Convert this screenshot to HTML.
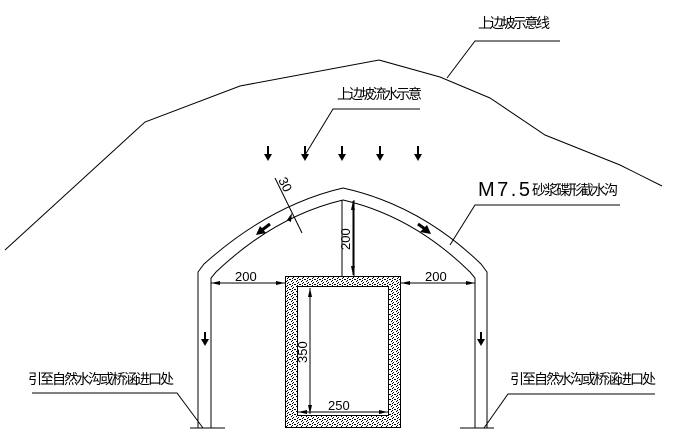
<!DOCTYPE html>
<html><head><meta charset="utf-8"><style>
html,body{margin:0;padding:0;background:#fff;}
svg{display:block}
text{font-family:"Liberation Sans","Noto Sans CJK SC",sans-serif;fill:#000}
.c{font-size:14px}
</style></head><body>
<svg width="684" height="444" viewBox="0 0 684 444" xmlns="http://www.w3.org/2000/svg">
<defs>
<pattern id="dots" width="5" height="5" patternUnits="userSpaceOnUse">
<rect width="5" height="5" fill="#fff"/>
<rect x="1" y="1" width="1" height="1" fill="#000"/><rect x="3" y="2" width="1" height="1" fill="#000"/>
<rect x="0" y="4" width="1" height="1" fill="#000"/><rect x="4" y="4" width="1" height="1" fill="#000"/>
<rect x="2" y="0" width="1" height="1" fill="#000"/><rect x="2" y="3" width="1" height="1" fill="#000"/>
</pattern>
</defs>
<g stroke="#000" stroke-width="1" fill="none">
<polyline points="5,250 145,122 240,86 379,60 440,77 490,98 545,135 620,165 662,186"/>
<path d="M198,428 L198,272 L204,264 Q270,205 343,188 Q420,205 481,264 L487,272 L487,428"/>
<path d="M211,428 L211,278 L216,272 Q275,216 343,200 Q413,216 470,272 L475,278 L475,428"/>
<line x1="190" y1="428" x2="225" y2="428"/>
<line x1="460" y1="428" x2="494" y2="428"/>
<line x1="342" y1="200" x2="342" y2="276"/>
<line x1="354" y1="200" x2="354" y2="276"/>
<rect x="285.5" y="276.5" width="115" height="151" fill="url(#dots)"/>
<rect x="297.5" y="286.5" width="91" height="129" fill="#fff"/>
<line x1="211" y1="283" x2="285" y2="283"/>
<line x1="401" y1="283" x2="475" y2="283"/>
<line x1="310" y1="288" x2="310" y2="414"/>
<line x1="298" y1="412" x2="388" y2="412"/>
<line x1="353" y1="201" x2="353" y2="275"/>
<line x1="275" y1="178" x2="302" y2="233"/>
<polyline points="447,78 475,41 560,41"/>
<polyline points="305,155 333,109 420,109"/>
<polyline points="450,245 475,205 620,205"/>
<polyline points="32,393 177,393 203,428"/>
<polyline points="655,394 508,394 484,428"/>
</g>
<g fill="#000">
<polygon points="211,283 220,281 220,285"/><polygon points="285,283 276,281 276,285"/>
<polygon points="401,283 410,281 410,285"/><polygon points="475,283 466,281 466,285"/>
<polygon points="310,288 308,297 312,297"/><polygon points="310,414 308,405 312,405"/>
<polygon points="298,412 307,410 307,414"/><polygon points="388,412 379,410 379,414"/>
<polygon points="353,201 351,210 355,210"/><polygon points="353,275 351,266 355,266"/>
<polygon points="292,213 287,220 291,222"/>
<g id="a"><rect x="267" y="146" width="2" height="9"/><polygon points="264,154 272,154 268,161"/></g>
<use href="#a" x="37"/><use href="#a" x="74"/><use href="#a" x="112"/><use href="#a" x="150"/>
<rect x="204" y="332" width="2" height="8"/><polygon points="201,339 209,339 205,346"/>
<rect x="480" y="332" width="2" height="8"/><polygon points="477,339 485,339 481,346"/>
<!-- slope arrows -->
<line x1="262" y1="230" x2="270" y2="224" stroke="#000" stroke-width="3"/>
<polygon points="256,235 260,226 266,233"/>
<line x1="418" y1="224" x2="425" y2="229" stroke="#000" stroke-width="3"/>
<polygon points="431,234 420,232 427,225"/>
</g>
<text class="c" x="478" y="28" textLength="72">上边坡示意线</text>
<text class="c" x="337" y="99" textLength="85">上边坡流水示意</text>
<text x="478" y="196" font-size="20" textLength="52">M7.5</text>
<text class="c" x="532" y="195" textLength="86">砂浆碟形截水沟</text>
<text class="c" x="28" y="384" textLength="146">引至自然水沟或桥涵进口处</text>
<text class="c" x="510" y="384" textLength="146">引至自然水沟或桥涵进口处</text>
<text font-size="13" x="235" y="281">200</text>
<text font-size="13" x="425" y="281">200</text>
<text font-size="13" x="328" y="410">250</text>
<text font-size="13" transform="translate(307,363) rotate(-90)">350</text>
<text font-size="13" transform="translate(350,250) rotate(-90)">200</text>
<text font-size="13" transform="translate(278,180) rotate(63)">30</text>
</svg>
</body></html>
